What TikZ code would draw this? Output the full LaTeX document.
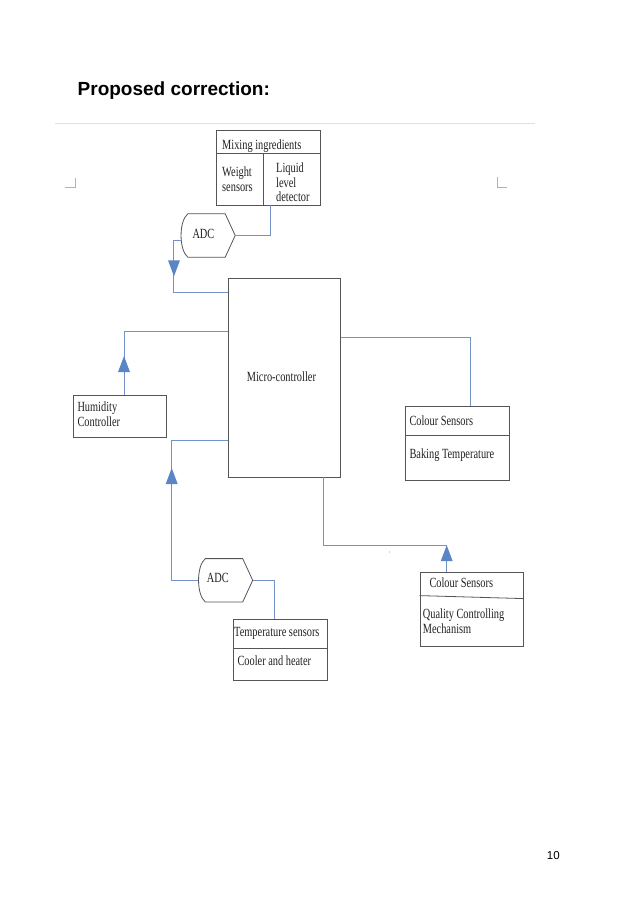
\documentclass[tikz,border=0pt]{standalone}
\usepackage{fontspec}
\setmainfont{Liberation Serif}
\newfontfamily\dfont[FakeStretch=0.74]{Liberation Serif}
\newfontfamily\hfont{Liberation Sans}
\usetikzlibrary{calc}
\definecolor{conncol}{HTML}{7393C8}
\definecolor{arrcol}{HTML}{5B86C6}
\definecolor{boxcol}{HTML}{555555}
\definecolor{txtcol}{HTML}{222222}
\begin{document}
\begin{tikzpicture}[x=1pt,y=-1pt,
  box/.style={draw=boxcol, line width=0.8pt, rectangle, inner sep=0pt},
  adcshape/.style={rectangle, inner sep=0pt, minimum width=54pt, minimum height=43pt},
  lbl/.style={inner sep=0pt, anchor=base west, text=txtcol, font=\dfont\fontsize{14}{16}\selectfont},
  conn/.style={draw=conncol, line width=0.9pt},
  divline/.style={draw=boxcol, line width=0.8pt},
  faint/.style={draw=black!12, line width=0.7pt},
  cornermark/.style={draw=black!30, line width=0.8pt},
  tri/.pic={\fill[arrcol] (-6,8) -- (6,8) -- (0,-8) -- cycle;}
]
\fill[white] (0,0) rectangle (638,902);
\useasboundingbox (0,0) rectangle (638,902);

% title and page number
\node[anchor=base west, inner sep=0pt, font=\hfont\bfseries\fontsize{19}{22}\selectfont] (title) at (77.5,95.7) {Proposed correction:};
\node[anchor=base west, inner sep=0pt, font=\hfont\fontsize{11.5}{13}\selectfont] (pagenum) at (546.7,859) {10};

% faint page decorations
\draw[faint] (55,123) -- (535,123);
\draw[cornermark] (65,187) -- (75,187) -- (75,178);
\draw[cornermark] (497,177) -- (497,187) -- (507,187);

% boxes
\node[box, minimum width=103.3pt, minimum height=74.3pt] (mix) at (268.35,167.85) {};
\draw[divline] ($(mix.north west)+(0,22.6)$) -- ($(mix.north east)+(0,22.6)$);
\draw[divline] ($(mix.south west)+(46.6,0)$) -- ($(mix.north west)+(46.6,22.6)$);
\node[lbl] (mixT) at (222,149.5) {Mixing ingredients};
\node[lbl] (weightA) at (222,176) {Weight};
\node[lbl] (weightB) at (222,191) {sensors};
\node[lbl] (liqA) at (276,172.3) {Liquid};
\node[lbl] (liqB) at (276,187.3) {level};
\node[lbl] (liqC) at (276,201.7) {detector};

\node[box, minimum width=112.4pt, minimum height=199pt] (mc) at (284.5,377.5) {};
\node[lbl] (mcT) at (246.7,381) {Micro-controller};

\node[box, minimum width=92.7pt, minimum height=41.6pt] (hum) at (119.7,416.5) {};
\node[lbl] (humA) at (77.3,411.7) {Humidity};
\node[lbl] (humB) at (77.3,426.7) {Controller};

\node[box, minimum width=103.3pt, minimum height=74pt] (col) at (457.35,443.7) {};
\draw[divline] ($(col.north west)+(0,29)$) -- ($(col.north east)+(0,29)$);
\node[lbl] (colA) at (409.3,425) {Colour Sensors};
\node[lbl] (colB) at (409.3,458.3) {Baking Temperature};

\node[box, minimum width=103.3pt, minimum height=73.7pt] (qual) at (471.65,609.15) {};
\draw[divline] ($(qual.north west)+(0,23.7)$) -- ($(qual.north east)+(0,26.7)$);
\node[lbl] (qualA) at (429.3,587.3) {Colour Sensors};
\node[lbl] (qualB) at (422.7,618) {Quality Controlling};
\node[lbl] (qualC) at (422.7,633.3) {Mechanism};

\node[box, minimum width=94pt, minimum height=61pt] (temp) at (280.3,649.5) {};
\draw[divline] ($(temp.north west)+(0,29.3)$) -- ($(temp.north east)+(0,29.3)$);
\node[lbl] (tempA) at (234,636.7) {Temperature sensors};
\node[lbl] (tempB) at (237.3,665) {Cooler and heater};

% ADC shapes
\node[adcshape] (adcA) at (208,235.5) {};
\draw[divline] ($(adcA.north west)+(7,0)$) -- ($(adcA.north east)+(-10,0)$) -- (adcA.east)
  -- ($(adcA.south east)+(-10,0)$) -- ($(adcA.south west)+(7,0)$)
  .. controls ($(adcA.west)+(-2,14.5)$) and ($(adcA.west)+(-2,-14.5)$) .. cycle;
\node[lbl] (adcAT) at (192.3,238) {ADC};

\node[adcshape] (adcB) at (225.5,580.3) {};
\draw[divline] ($(adcB.north west)+(7,0)$) -- ($(adcB.north east)+(-10,0)$) -- (adcB.east)
  -- ($(adcB.south east)+(-10,0)$) -- ($(adcB.south west)+(7,0)$)
  .. controls ($(adcB.west)+(-2,14.5)$) and ($(adcB.west)+(-2,-14.5)$) .. cycle;
\node[lbl] (adcBT) at (206.7,582.5) {ADC};

% connectors
\draw[conn] ([xshift=1.7pt]mix.south) |- (adcA.east);
\draw[conn] ([yshift=-5pt]adcA.west) -- ++(-7.3,0) |- ([yshift=-14.7pt]mc.north west);
\draw[conn] ([yshift=-54.3pt]mc.north west) -| ([xshift=4.3pt]hum.north);
\draw[conn] ([yshift=-162.7pt]mc.north west) -- ++(-56.6,0) |- (adcB.west);
\draw[conn] (adcB.east) -| ([xshift=-6.3pt]temp.north);
\draw[conn] ([xshift=38.8pt]mc.south) -- ++(0,68) -| ([xshift=-25pt]qual.north);
\draw[conn] ([yshift=-60.3pt]mc.north east) -| ([xshift=12.7pt]col.north);

% arrow markers
\pic[rotate=180] at (174,268.3) {tri};
\pic at (124,364) {tri};
\pic at (171.7,476) {tri};
\pic at (446.7,553.2) {tri};

% small speck
\fill[black!35] (389.5,552) circle (0.7pt);
\end{tikzpicture}
\end{document}
